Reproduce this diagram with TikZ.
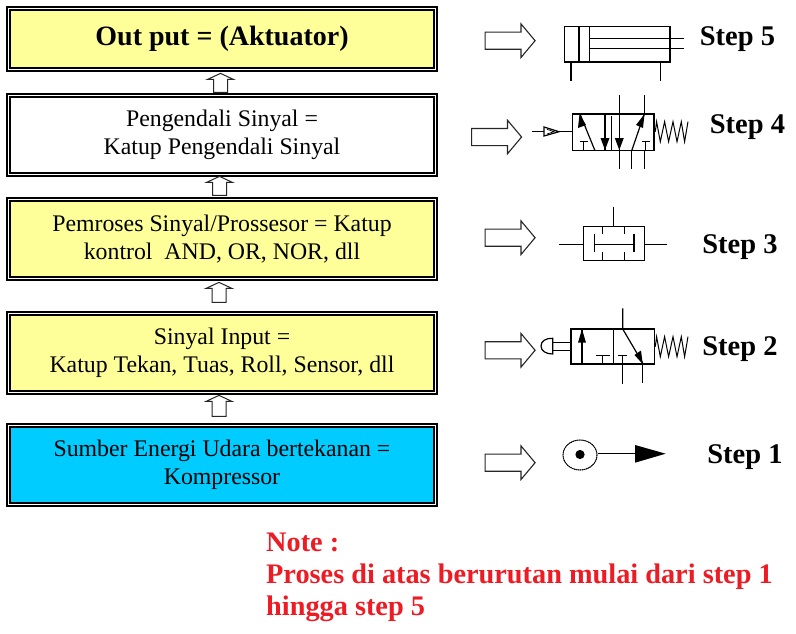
\documentclass[tikz,border=0pt]{standalone}
\usepackage{fontspec}
\setmainfont{Liberation Serif}
\usetikzlibrary{shapes.arrows,calc}
\definecolor{boxyellow}{HTML}{FFFF99}
\definecolor{boxblue}{HTML}{00CCFF}
\definecolor{notered}{HTML}{ED1C24}
\tikzset{
  flowbox/.style={draw=black,line width=1.7pt,double=white,double distance=1.6pt,
    minimum width=427pt,inner sep=0pt,align=center,font=\fontsize{23.8}{28.5}\selectfont},
  rightarrow/.style={draw=black!85,line width=1.1pt,fill=white,shape=single arrow,minimum height=50pt,
    minimum width=32.6pt,single arrow head extend=8.3pt,single arrow tip angle=100,inner sep=0pt,anchor=center},
  uparrow/.style={draw=black!85,line width=1pt,fill=white,shape=single arrow,rotate=90,minimum height=19pt,
    minimum width=25pt,single arrow head extend=6pt,single arrow tip angle=130,inner sep=0pt,anchor=center},
  steplabel/.style={font=\fontsize{28.5}{28.5}\selectfont\bfseries,anchor=base,inner sep=0pt},
  sym/.style={draw=black,line width=1.2pt},
  spring/.pic={\draw[sym,line width=1pt] (0,0)--(1.3,-10)--(5,10)--(9.3,-10)--(13.3,10)--(17.7,-10)--(21.7,10)--(26,-10)--(29.3,10)--(32.7,-10);},
}
\newcommand{\rshaft}{\rule{0pt}{16pt}}
\newcommand{\ushaft}{\rule{0pt}{13pt}}
\begin{document}
\begin{tikzpicture}[x=1pt,y=-1pt]
\useasboundingbox (0,0) rectangle (796,634);
\fill[white] (0,0) rectangle (796,634);
% flow boxes
\node[flowbox,fill=boxyellow,minimum height=61pt,font=\fontsize{28}{32}\selectfont\bfseries] (out) at (222,39) {Out put = (Aktuator)};
\node[flowbox,fill=white,minimum height=79pt] (ctrl) at (222,135) {Pengendali Sinyal =\\Katup Pengendali Sinyal};
\node[flowbox,fill=boxyellow,minimum height=79pt] (proc) at (222,239) {Pemroses Sinyal/Prossesor = Katup\\kontrol\ \ AND, OR, NOR, dll};
\node[flowbox,fill=boxyellow,minimum height=79pt] (input) at (222,353) {Sinyal Input =\\Katup Tekan, Tuas, Roll, Sensor, dll};
\node[flowbox,fill=boxblue,minimum height=79pt] (src) at (222,465) {Sumber Energi Udara bertekanan =\\Kompressor};
% up arrows
\node[uparrow] (u1) at (220.5,84.5) {\ushaft};
\node[uparrow] (u2) at (219.5,187.5) {\ushaft};
\node[uparrow,minimum height=20pt] (u3) at (219,294) {\ushaft};
\node[uparrow,minimum height=21pt] (u4) at (219,407.5) {\ushaft};
% right arrows
\node[rightarrow] (r5) at (506.5,40.7) {\rshaft};
\node[rightarrow] (r4) at (493,137) {\rshaft};
\node[rightarrow] (r3) at (506.5,237.7) {\rshaft};
\node[rightarrow] (r2) at (506.5,350.3) {\rshaft};
\node[rightarrow] (r1) at (506.5,462.7) {\rshaft};
% step labels
\node[steplabel] (s5) at (737.5,46) {Step 5};
\node[steplabel] (s4) at (747.5,133) {Step 4};
\node[steplabel] (s3) at (740,253) {Step 3};
\node[steplabel] (s2) at (740,355) {Step 2};
\node[steplabel] (s1) at (745,463) {Step 1};
% step 5 cylinder
\draw[sym] (564.7,26.7) rectangle (670,62);
\draw[sym] (579,26.7)--(579,62) (589.7,26.7)--(589.7,62);
\draw[sym] (589.7,38.7)--(684,38.7) (589.7,48.7)--(684,48.7);
\draw[sym] (571,62)--(571,81.3) (660.3,62)--(660.3,81.3);
% step 4 valve
\draw[sym] (572.7,114) rectangle (654,150.7);
\draw[sym] (611.7,116)--(611.7,150.7);
\draw[sym] (605,114)--(605,150.7);
\draw[sym] (619.3,95)--(619.3,169);
\draw[sym] (644.3,95)--(644.3,114) (644.3,150.7)--(644.3,169) (631.7,150.7)--(631.7,169);
\draw[sym] (595,150.7)--(580,114) (631.7,150.7)--(644.3,114);
\fill (579.5,114)--(586,125)--(578,128)--cycle;
\fill (644.5,114)--(643,128)--(636,125)--cycle;
\fill (605,150)--(600.5,138)--(609.5,138)--cycle;
\fill (619.3,150)--(614.8,138)--(623.8,138)--cycle;
\draw[sym] (579.5,141.7)--(587.5,141.7) (583.5,141.7)--(583.5,150.7);
\draw[sym] (641.7,141.7)--(650,141.7) (645.7,141.7)--(645.7,150.7);
\pic at (655.3,131.7) {spring};
\draw[sym] (531.7,131.7)--(572.7,131.7);
\draw[sym,fill=white] (544,127)--(559,131.7)--(544,136)--cycle;
\draw[sym,line width=.7pt] (547,129.3)--(554,131.7)--(547,134);
% step 3 shuttle
\draw[sym] (583.3,226.7) rectangle (644.7,260.7);
\draw[sym] (613.3,206.7)--(613.3,226.7);
\draw[sym] (559.3,244.3)--(583.3,244.3) (644.7,244.3)--(666.7,244.3);
\draw[sym] (594.3,234.3)--(594.3,252.3) (634,234.3)--(634,252.3) (594.3,244.3)--(634,244.3);
\draw[sym] (602.3,226.7)--(602.3,234.3) (624.3,226.7)--(624.3,234.3);
\draw[sym] (602.3,252.3)--(602.3,260.7) (624.3,252.3)--(624.3,260.7);
% step 2 valve
\draw[sym] (571,329) rectangle (654.3,364);
\draw[sym] (613.3,329)--(613.3,364);
\draw[sym] (582,364)--(582,329);
\fill (582,329)--(586,342.7)--(578,342.7)--cycle;
\draw[sym] (596,355.7)--(610,355.7) (602.7,355.7)--(602.7,364);
\draw[sym] (622.7,308.3)--(622.7,329) (622.7,329)--(642.7,363);
\fill (642.7,364)--(634.5,355)--(641,350.5)--cycle;
\draw[sym] (617.7,355.7)--(626.7,355.7) (622.7,355.7)--(622.7,384.3);
\draw[sym] (642.7,364)--(642.7,383.3);
\pic at (655.3,346.7) {spring};
\draw[sym] (552.7,342.7)--(571,342.7) (552.7,350.7)--(571,350.7);
\draw[sym] (552.7,338.3) .. controls (546,338) and (541,341) .. (541,346) .. controls (541,351) and (546,354) .. (552.7,354) -- cycle;
% step 1 source
\draw[black,line width=1pt,densely dotted] (580,455) circle[x radius=17,y radius=15];
\draw[black,line width=.6pt] (580,455) circle[x radius=17,y radius=15];
\fill (580,454.5) circle[radius=4.6];
\draw[sym] (598.3,453.7)--(635,453.7);
\fill (635,445)--(665.7,453.7)--(635,462.7)--cycle;
% note
\node[anchor=north west,inner sep=0pt,align=left,text=notered,font=\fontsize{28.3}{32.2}\selectfont\bfseries] (note) at (266,532.5) {Note :\\Proses di atas berurutan mulai dari step 1\\hingga step 5};
\end{tikzpicture}
\end{document}
